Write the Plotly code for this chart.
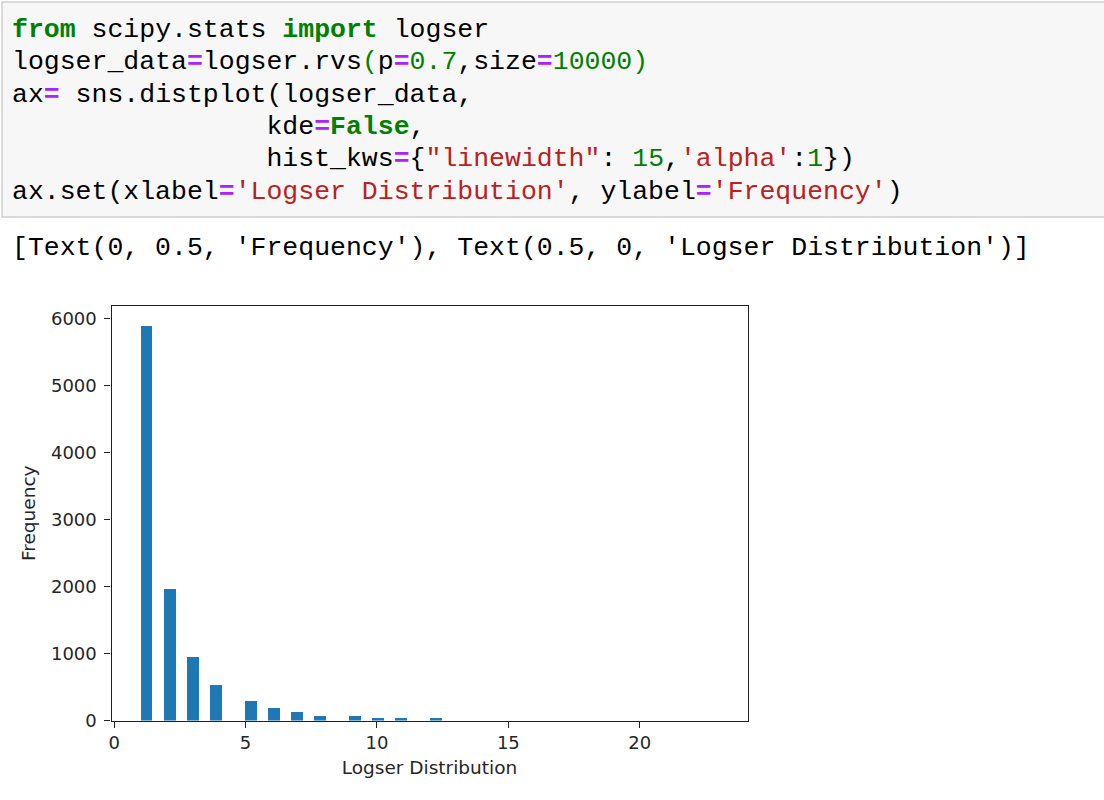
import numpy as np
import plotly.graph_objects as go

# logser values and how often each came up;
# past 12 the bars are too short to see, so they count as 0 here
values = [1, 2, 3, 4, 5, 6, 7, 8, 9, 10, 11, 12,
          13, 14, 15, 16, 17, 18, 19, 20, 21, 22, 23]
counts = [5891, 1968, 952, 523, 294, 184, 120, 65, 62, 35, 33, 30,
          0, 0, 0, 0, 0, 0, 0, 0, 0, 0, 0]
x_ticks = [0, 5, 10, 15, 20]
y_ticks = [0, 1000, 2000, 3000, 4000, 5000, 6000]

# seaborn/matplotlib: 50 bins between min and max
n_bins = 50
bw = (max(values) - min(values)) / n_bins
left = [min(values) + np.floor((v - min(values)) / bw + 1e-9) * bw for v in values]
centers = [l + bw / 2 for l in left]

W, H = 1104, 800
def px(x):
    return x / W
def py(y):
    return 1 - y / H

G = "#008000"   # keywords / numbers
P = "#aa22ff"   # operators
R = "#ba2121"   # strings

def c(t, col, bold=False):
    s = "<span style='color:%s'>%s</span>" % (col, t)
    return "<b>" + s + "</b>" if bold else s

ind = "\u00a0" * 16
code_lines = [
    c("from", G, True) + " scipy.stats " + c("import", G, True) + " logser",
    "logser_data" + c("=", P, True) + "logser.rvs" + c("(", G) + "p" + c("=", P, True)
    + c("0.7", G) + ",size" + c("=", P, True) + c("10000", G) + c(")", G),
    "ax" + c("=", P, True) + " sns.distplot(logser_data,",
    ind + "kde" + c("=", P, True) + c("False", G, True) + ",",
    ind + "hist_kws" + c("=", P, True) + "{" + c('"linewidth"', R) + ": " + c("15", G)
    + "," + c("'alpha'", R) + ":" + c("1", G) + "})",
    "ax.set(xlabel" + c("=", P, True) + c("'Logser Distribution'", R) + ", ylabel"
    + c("=", P, True) + c("'Frequency'", R) + ")",
]
out_line = "[Text(0, 0.5, 'Frequency'), Text(0.5, 0, 'Logser Distribution')]"

fig = go.Figure()
fig.add_trace(go.Bar(x=centers, y=counts, width=bw,
                     marker=dict(color="#1f77b4", line=dict(width=0))))

annots = []
for i, line in enumerate(code_lines):
    annots.append(dict(x=px(10), y=py(30 + 32.3 * i), xref="paper", yref="paper",
                       text=line, showarrow=False, xanchor="left", yanchor="middle",
                       font=dict(family="Liberation Mono", size=26.5, color="#000")))
annots.append(dict(x=px(10), y=py(248), xref="paper", yref="paper",
                   text=out_line, showarrow=False, xanchor="left", yanchor="middle",
                   font=dict(family="Liberation Mono", size=26.5, color="#000")))

axis_font = dict(family="DejaVu Sans", size=18, color="#262626")
fig.update_layout(
    width=W, height=H,
    margin=dict(l=0, r=0, t=0, b=0),
    paper_bgcolor="white", plot_bgcolor="white",
    showlegend=False,
    bargap=0,
    shapes=[dict(type="rect", xref="paper", yref="paper",
                 x0=px(2), x1=px(1110), y0=py(217), y1=py(2),
                 fillcolor="#f7f7f7", line=dict(color="#cfcfcf", width=1.5),
                 layer="below")],
    annotations=annots,
    xaxis=dict(domain=[px(111.5), px(747.5)], range=[-0.1, 24.1], automargin=False,
               tickvals=x_ticks, ticks="outside", ticklen=6, tickwidth=1.2,
               tickcolor="#222", showline=True, mirror=True, linecolor="#222",
               linewidth=1.3, showgrid=False, zeroline=False, tickfont=axis_font,
               ticklabelstandoff=0,
               title=dict(text="Logser Distribution", standoff=8,
                          font=dict(family="DejaVu Sans", size=18.5, color="#262626"))),
    yaxis=dict(domain=[py(720.5), py(306)], range=[0, 6186], automargin=False,
               tickvals=y_ticks, ticks="outside", ticklen=6, tickwidth=1.2,
               tickcolor="#222", showline=True, mirror=True, linecolor="#222",
               linewidth=1.3, showgrid=False, zeroline=False, tickfont=axis_font,
               ticklabelstandoff=4,
               title=dict(text="Frequency", standoff=10,
                          font=dict(family="DejaVu Sans", size=18.5, color="#262626"))),
)

# the page body has an 8px default margin; drop it so the figure sits at 0,0
fig.write_html("out.html", config={"displayModeBar": False},
               post_script="document.body.style.margin='0';")
